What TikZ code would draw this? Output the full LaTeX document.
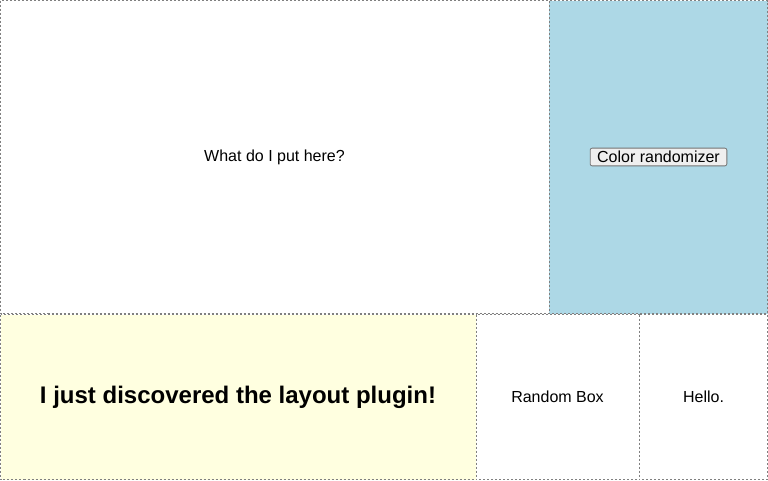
\documentclass[tikz,border=0pt]{standalone}
\usepackage{fontspec}
\setmainfont{Liberation Sans}
\usepackage{xcolor}
\definecolor{panelblue}{HTML}{ADD8E6}
\definecolor{panelyellow}{HTML}{FFFFE0}
\definecolor{btngray}{HTML}{EFEFEF}
\tikzset{
  panel/.style={draw=gray, line width=1pt, dash pattern=on 2pt off 2pt},
  paneltext/.style={font=\fontsize{16}{19}\selectfont},
  button/.style={draw=gray!90!black, fill=btngray, rounded corners=2pt, line width=0.8pt,
    inner xsep=7pt, inner ysep=3pt, font=\fontsize{16}{19}\selectfont}
}
\begin{document}
\begin{tikzpicture}[x=1pt,y=-1pt]
      \useasboundingbox (0,0) rectangle (768,480);
      % panels
      \draw[panel, fill=white] (0.5,0.5) rectangle (549,313.5);
      \draw[panel, fill=panelblue] (549,0.5) rectangle (767.5,313.5);
      \draw[panel, fill=panelyellow] (0.5,314.5) rectangle (476,479.5);
      \draw[panel, fill=white] (476,314.5) rectangle (639,479.5);
      \draw[panel, fill=white] (639,314.5) rectangle (767.5,479.5);
      % texts
      \node (question) [paneltext] at (274.5,157) {What do I put here?};
      \node (randomizer) [button] at (658.5,157) {Color randomizer};
      \node (discovered) [font=\bfseries\fontsize{24}{28}\selectfont] at (238,397) {I just discovered the layout plugin!};
      \node (randombox) [paneltext] at (557.5,397) {Random Box};
      \node (hello) [paneltext] at (703.5,397) {Hello.};
    \end{tikzpicture}
\end{document}
